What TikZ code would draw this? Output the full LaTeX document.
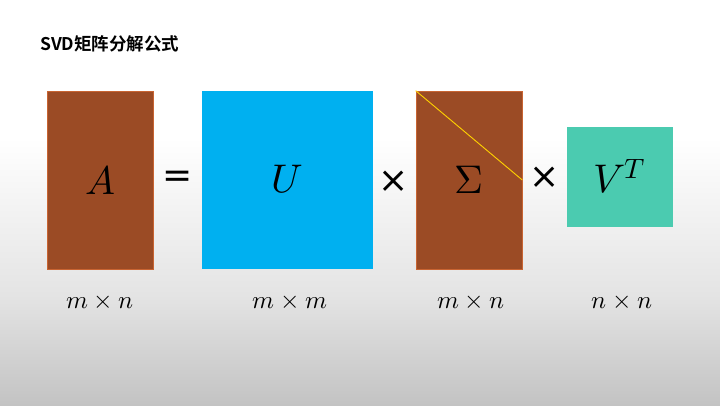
\documentclass[tikz,border=0pt]{standalone}
\usepackage{fontspec}
\usepackage{unicode-math}
\setmathfont{Latin Modern Math}
\usetikzlibrary{calc}
\newfontfamily\cjk{Noto Sans CJK SC}[BoldFont={Noto Sans CJK SC Bold}]
\newfontfamily\opfont{DejaVu Sans}
\definecolor{bgbot}{RGB}{195,195,195}
\definecolor{bgmid}{RGB}{228,228,228}
\definecolor{brownfill}{RGB}{155,75,37}
\definecolor{brownline}{RGB}{200,100,50}
\definecolor{cyanfill}{RGB}{0,176,240}
\definecolor{tealfill}{RGB}{75,203,176}
\definecolor{diagline}{RGB}{255,210,0}
\pgfdeclareverticalshading{bgshade}{100bp}{color(0bp)=(bgbot); color(25bp)=(bgbot); color(38.6bp)=(bgmid); color(58bp)=(white); color(75bp)=(white); color(100bp)=(white)}
\tikzset{
  mat/.style={draw, line width=0.6pt, inner sep=0pt, font=\fontsize{40}{48}\selectfont},
  op/.style={inner sep=0pt, font=\opfont\fontsize{36}{44}\selectfont},
  dimlabel/.style={inner sep=0pt, font=\fontsize{25}{30}\selectfont},
}
\begin{document}
\begin{tikzpicture}[x=1pt,y=-1pt]
\useasboundingbox (0,0) rectangle (720,405);
\shade[shading=bgshade] (0,0) rectangle (720,405);
\node[anchor=west, inner sep=0pt, font=\cjk\bfseries\fontsize{17.5}{21}\selectfont] (title) at (40,44) {SVD矩阵分解公式};
% matrices
\node[mat, fill=brownfill, draw=brownline, minimum width=106pt, minimum height=178pt] (A) at (100,180) {$A$};
\node[mat, fill=cyanfill, draw=cyanfill, minimum width=170pt, minimum height=177pt] (U) at (287,179.5) {$U$};
\node[mat, fill=brownfill, draw=brownline, minimum width=106pt, minimum height=178pt] (S) at (469,180) {};
\draw[diagline, line width=0.9pt] (S.north west) -- (S.east);
\node[mat, draw=none, fill=none] (Sl) at (S.center) {$\Sigma$};
\node[mat, fill=tealfill, draw=tealfill, minimum width=105pt, minimum height=99pt] (V) at (619.5,176.5) {$V^{T}$};
% operators
\node[op] (eq) at ($(A.east)!0.5!(U.west)$) {=};
\node[op] (t1) at ($(U.east)!0.5!(S.west)+(0,2)$) {×};
\node[op] (t2) at ($(S.east)!0.5!(V.west)$) {×};
% labels
\node[dimlabel] (lA) at (100,302) {$m\times n$};
\node[dimlabel] (lU) at (290,302) {$m\times m$};
\node[dimlabel] (lS) at (471,302) {$m\times n$};
\node[dimlabel] (lV) at (622,302) {$n\times n$};
\end{tikzpicture}
\end{document}
